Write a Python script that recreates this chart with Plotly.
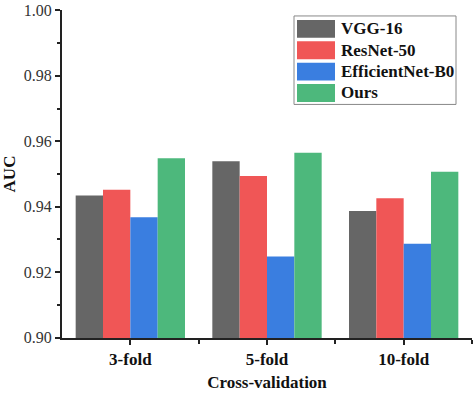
import plotly.graph_objects as go

categories = ["3-fold", "5-fold", "10-fold"]
cat_pos = [0, 1, 2]
series_names = ["VGG-16", "ResNet-50", "EfficientNet-B0", "Ours"]
vgg16 = [0.9434, 0.9539, 0.9387]
resnet50 = [0.9452, 0.9494, 0.9426]
efficientnet_b0 = [0.9368, 0.9248, 0.9287]
ours = [0.9548, 0.9565, 0.9507]
y_ticks = [0.90, 0.92, 0.94, 0.96, 0.98, 1.00]
y_ticktext = ["0.90", "0.92", "0.94", "0.96", "0.98", "1.00"]

colors = ["#666666", "#F05656", "#3A7EE0", "#4DB87C"]
series = [vgg16, resnet50, efficientnet_b0, ours]

W, H = 474, 396
ML, MR, MT, MB = 62, 2, 8, 58
PW, PH = W - ML - MR, H - MT - MB

def px_x(px):
    return (px - ML) / PW

def px_y(py):
    return (H - MB - py) / PH

fig = go.Figure()
for name, vals, c in zip(series_names, series, colors):
    fig.add_trace(go.Bar(x=cat_pos, y=vals, name=name, marker=dict(color=c, line=dict(width=0))))

serif = "Liberation Serif, Times New Roman, serif"
axis_color = "#222222"

# legend drawn as a boxed key in paper coordinates
shapes = [dict(type="rect", xref="paper", yref="paper", x0=px_x(294), x1=px_x(456),
               y0=px_y(103), y1=px_y(14), line=dict(color="#888888", width=1),
               fillcolor="white", layer="above")]
annotations = []
row_centers = [27, 48.5, 70, 91.5]
for name, c, cy in zip(series_names, colors, row_centers):
    shapes.append(dict(type="rect", xref="paper", yref="paper", x0=px_x(297), x1=px_x(335),
                       y0=px_y(cy + 9), y1=px_y(cy - 9), line=dict(width=0), fillcolor=c,
                       layer="above"))
    annotations.append(dict(text=name, xref="paper", yref="paper", x=px_x(339), y=px_y(cy),
                            xanchor="left", yanchor="middle", showarrow=False,
                            font=dict(family=serif, size=17, color="#111111", weight="bold")))

fig.update_layout(
    width=W, height=H,
    margin=dict(l=ML, r=MR, t=MT, b=MB),
    paper_bgcolor="white", plot_bgcolor="white",
    barmode="group", bargap=0.2, bargroupgap=0,
    showlegend=False,
    shapes=shapes, annotations=annotations,
    xaxis=dict(range=[-0.5, 2.5], tickmode="array", tickvals=cat_pos, ticktext=categories,
               showline=True, linecolor=axis_color, linewidth=2, mirror=False,
               ticks="outside", ticklen=5, tickwidth=1.5, tickcolor=axis_color,
               minor=dict(tickmode="array", tickvals=[0.5, 1.5, 2.5], ticks="outside", ticklen=4,
                          tickwidth=1.5, tickcolor=axis_color),
               showgrid=False, zeroline=False,
               tickfont=dict(family=serif, size=17, color="#111111", weight="bold"),
               title=dict(text="Cross-validation", standoff=8,
                          font=dict(family=serif, size=17, color="#111111", weight="bold"))),
    yaxis=dict(range=[0.8999, 1.0001], tickmode="array", tickvals=y_ticks, ticktext=y_ticktext,
               showline=True, linecolor=axis_color, linewidth=2,
               ticks="outside", ticklen=5, tickwidth=1.5, tickcolor=axis_color,
               ticklabeloverflow="allow",
               minor=dict(dtick=0.01, tick0=0.90, ticks="outside", ticklen=3, tickwidth=1.5,
                          tickcolor=axis_color),
               showgrid=False, zeroline=False,
               tickfont=dict(family=serif, size=16, color="#333333"),
               title=dict(text="AUC", standoff=8,
                          font=dict(family=serif, size=17, color="#111111", weight="bold"))),
)

fig.write_html("out.html", config={"displayModeBar": False},
               post_script="document.body.style.margin='0';")
